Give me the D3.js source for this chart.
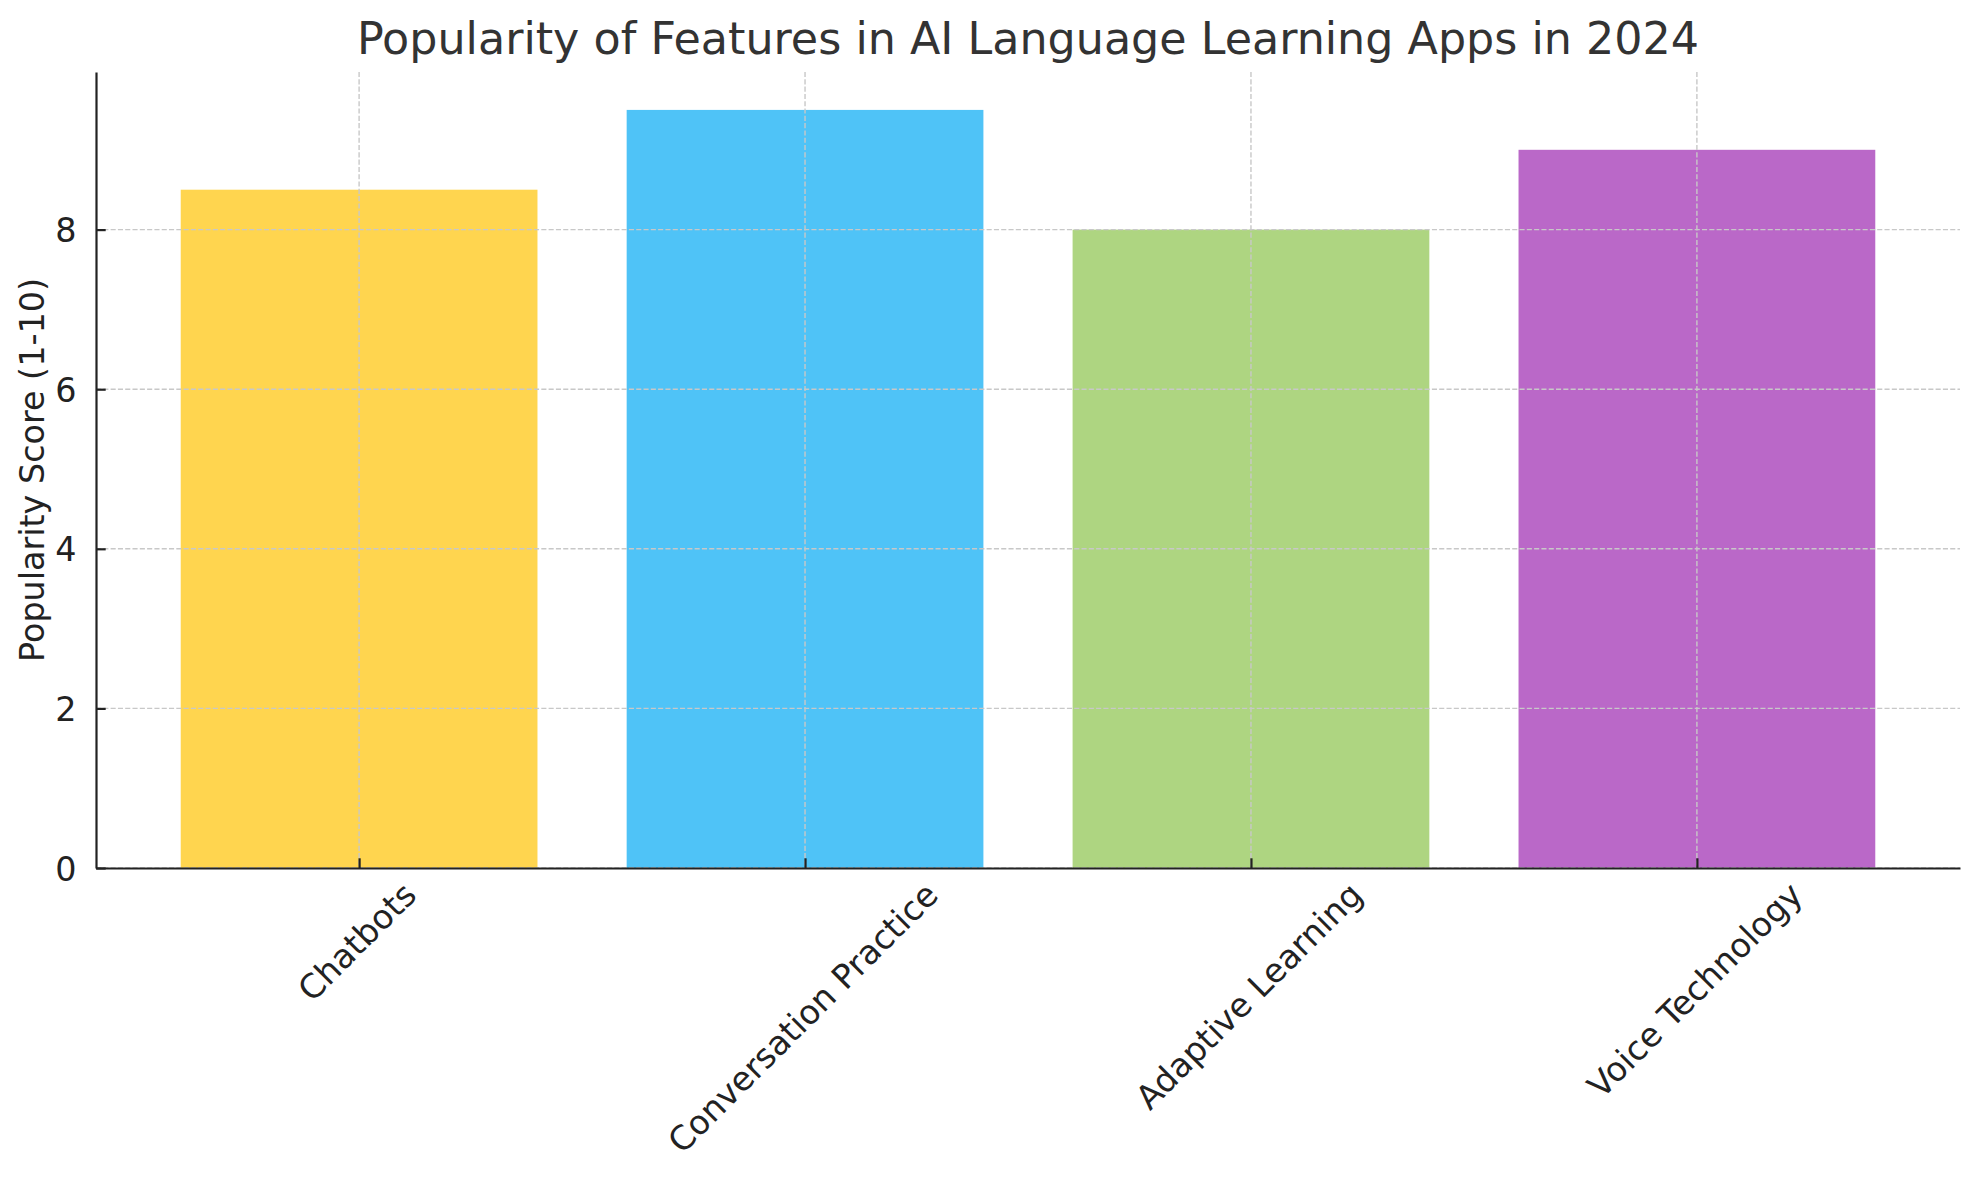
<!DOCTYPE html>
<html>
<head>
<meta charset="utf-8">
<script src="https://cdn.jsdelivr.net/npm/d3@7"></script>
<style>
  html, body { margin: 0; padding: 0; background: #fff; }
  svg { display: block; font-family: "DejaVu Sans", sans-serif; }
</style>
</head>
<body>
<svg id="chart" width="1979" height="1180"></svg>
<script>
const categories = ["Chatbots", "Conversation Practice", "Adaptive Learning", "Voice Technology"];
const values = [8.5, 9.5, 8.0, 9.0];
const colors = ["#FFD54F", "#4FC3F7", "#AED581", "#BA68C8"];
const yTicks = [0, 2, 4, 6, 8];
const title = "Popularity of Features in AI Language Learning Apps in 2024";
const yLabel = "Popularity Score (1-10)";

const M = { left: 96, right: 1960, top: 72, bottom: 868 };
const svg = d3.select("#chart");

const barW = 0.8;
const n = categories.length;
const pad = (n - 1 + barW) * 0.05;
const x = d3.scaleLinear().domain([-barW / 2 - pad, n - 1 + barW / 2 + pad]).range([M.left, M.right]);
const yMax = d3.max(values) * 1.05;
const y = d3.scaleLinear().domain([0, yMax]).range([M.bottom, M.top]);

// bars
svg.append("g").selectAll("rect").data(values).join("rect")
  .attr("x", (d, i) => x(i - barW / 2))
  .attr("width", (d, i) => x(i + barW / 2) - x(i - barW / 2))
  .attr("y", d => y(d))
  .attr("height", d => y(0) - y(d))
  .attr("fill", (d, i) => colors[i]);

// grid (drawn above bars)
const grid = svg.append("g").attr("stroke", "#c8c8c8").attr("stroke-width", 1.4)
  .attr("stroke-dasharray", "5.1,2.2").attr("fill", "none");
grid.selectAll("line.h").data(yTicks).join("line").attr("class", "h")
  .attr("x1", M.left).attr("x2", M.right).attr("y1", d => y(d)).attr("y2", d => y(d));
grid.selectAll("line.v").data(categories).join("line").attr("class", "v")
  .attr("x1", (d, i) => x(i)).attr("x2", (d, i) => x(i)).attr("y1", M.top).attr("y2", M.bottom);

const fs = 33.4;

// y axis (ticks inward)
const yAxis = d3.axisLeft(y).tickValues(yTicks).tickFormat(d3.format("d")).tickSizeInner(-9.7).tickSizeOuter(0).tickPadding(9.7 + 9.7);
const yg = svg.append("g").attr("transform", `translate(${M.left},0)`).call(yAxis);
yg.attr("font-size", null);
yg.select(".domain").attr("stroke", "#222").attr("stroke-width", 2.2);
yg.selectAll(".tick line").attr("stroke", "#222").attr("stroke-width", 2.2);
yg.selectAll(".tick text").style("font-size", fs + "px").attr("fill", "#222")
  .attr("font-family", "DejaVu Sans").attr("dy", "0.36em");

// x axis
const xAxis = d3.axisBottom(x).tickValues(d3.range(n)).tickFormat(i => categories[i]).tickSizeInner(-9.7).tickSizeOuter(0);
const xg = svg.append("g").attr("transform", `translate(0,${M.bottom})`).call(xAxis);
xg.attr("font-size", null);
xg.select(".domain").attr("stroke", "#222").attr("stroke-width", 2.2);
xg.selectAll(".tick line").attr("stroke", "#222").attr("stroke-width", 2.2);
xg.selectAll(".tick text").each(function() {
  const t = d3.select(this);
  t.style("font-size", fs + "px").attr("fill", "#222").attr("font-family", "DejaVu Sans")
    .attr("dy", null).attr("y", -3.5).attr("text-anchor", "middle").attr("dominant-baseline", "central");
  const L = this.getComputedTextLength();
  const h = fs * 1.16;
  const cy = 9.7 + (L + h) * Math.SQRT1_2 / 2;
  t.attr("transform", `translate(0,${cy}) rotate(-45)`);
});

// title
svg.append("text").attr("x", (M.left + M.right) / 2).attr("y", 54)
  .attr("text-anchor", "middle").style("font-size", "44.4px").attr("fill", "#333")
  .text(title);

// y label
svg.append("text").attr("transform", `translate(44,${(M.top + M.bottom) / 2}) rotate(-90)`)
  .attr("text-anchor", "middle").style("font-size", fs + "px").attr("fill", "#222")
  .text(yLabel);
</script>
</body>
</html>
